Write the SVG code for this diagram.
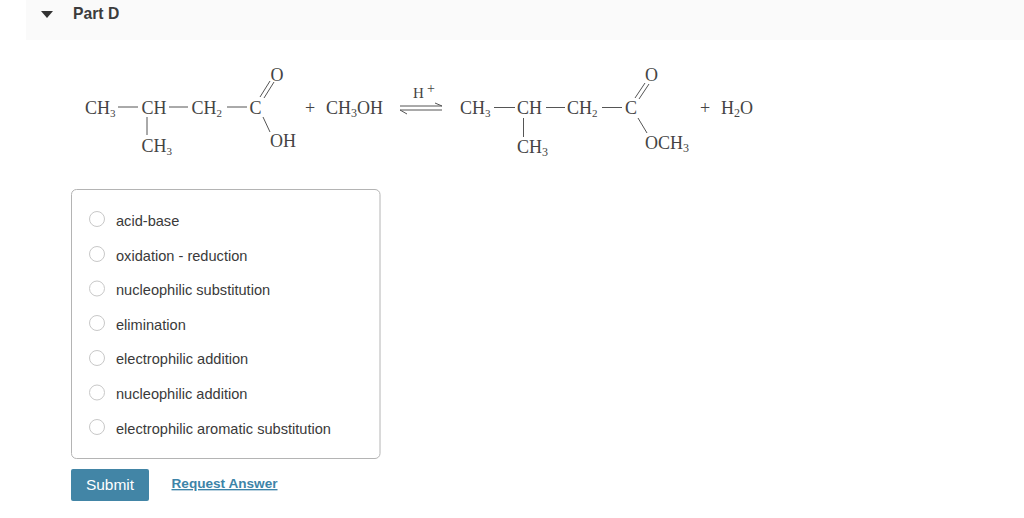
<svg xmlns="http://www.w3.org/2000/svg" width="1024" height="518" viewBox="0 0 1024 518">
<style>
.s{font-family:"Liberation Sans",Arial,sans-serif}
.o{font-size:14.6px;fill:#3a3a3a}
.c{font-family:"Liberation Serif","Times New Roman",serif;font-size:18px;fill:#444}
.b{stroke:#555;stroke-width:1;fill:none}
.r{fill:#fff;stroke:#c8c8c8;stroke-width:1}
</style>
<rect width="1024" height="518" fill="#fff"/>
<g id="header">
<rect x="26" y="0" width="998" height="40" fill="#fafafa"/>
<path d="M41 11H53L47 18Z" fill="#333"/>
<text class="s" x="73" y="19" font-size="15.700" font-weight="bold" fill="#3c3c3c">Part D</text>
</g>
<g id="equation">
<g class="c">
<text x="85" y="114">CH<tspan font-size="11" dy="3">3</tspan></text>
<text x="141.500" y="114">CH</text>
<text x="191.500" y="114">CH<tspan font-size="11" dy="3">2</tspan></text>
<text x="249.500" y="114">C</text>
<text x="270.500" y="80.500">O</text>
<text x="270" y="147">OH</text>
<text x="141.500" y="152">CH<tspan font-size="11" dy="3">3</tspan></text>
<text x="305" y="114">+</text>
<text x="326" y="114">CH<tspan font-size="12" dy="3">3</tspan><tspan dy="-3">OH</tspan></text>
<text x="413" y="98" font-size="15">H</text>
<text x="427" y="93" font-size="14">+</text>
<text x="460" y="114">CH<tspan font-size="11" dy="3">3</tspan></text>
<text x="517" y="114">CH</text>
<text x="567" y="114">CH<tspan font-size="11" dy="3">2</tspan></text>
<text x="625" y="114">C</text>
<text x="645" y="81">O</text>
<text x="645" y="149">OCH<tspan font-size="12" dy="3">3</tspan></text>
<text x="517" y="152.500">CH<tspan font-size="12" dy="3">3</tspan></text>
<text x="700" y="114">+</text>
<text x="721" y="114">H<tspan font-size="12" dy="3">2</tspan><tspan dy="-3">O</tspan></text>
</g>
<g id="connectors" class="b">
<path d="M118 107H138M169 107H188M227 107H247M147 117V135M260 97L270 81M264 98L274 82M263 117L270 132"/>
<path d="M494 107.500H515M546 107.500H565M602 107.500H622M523.500 118V137M635 98L645 83M639 99L649 84M638 118L647 133"/>
<path d="M400 106H442L435 103M400 110H442M400 110L407 114"/>
</g>
</g>
<g id="options">
<rect x="71.500" y="189.500" width="308.500" height="269" rx="5" fill="#fff" stroke="#b4b4b4"/>
<g class="r"><circle cx="97" cy="219" r="7.500"/><circle cx="97" cy="254" r="7.500"/><circle cx="97" cy="288.500" r="7.500"/><circle cx="97" cy="323" r="7.500"/><circle cx="97" cy="358" r="7.500"/><circle cx="97" cy="392.500" r="7.500"/><circle cx="97" cy="427" r="7.500"/></g>
<g class="s o">
<text x="116" y="225.500">acid-base</text>
<text x="116" y="260.500">oxidation - reduction</text>
<text x="116" y="295">nucleophilic substitution</text>
<text x="116" y="329.500">elimination</text>
<text x="116" y="364">electrophilic addition</text>
<text x="116" y="399">nucleophilic addition</text>
<text x="116" y="433.500">electrophilic aromatic substitution</text>
</g>
</g>
<g id="submit">
<rect x="71" y="469" width="78" height="32" rx="2" fill="#4285a6"/>
<text class="s" x="110" y="490" font-size="15.500" fill="#fff" text-anchor="middle">Submit</text>
</g>
<g id="request">
<text class="s" x="171.500" y="488" font-size="13.600" font-weight="bold" fill="#3d84a8" text-decoration="underline">Request Answer</text>
</g>
</svg>
